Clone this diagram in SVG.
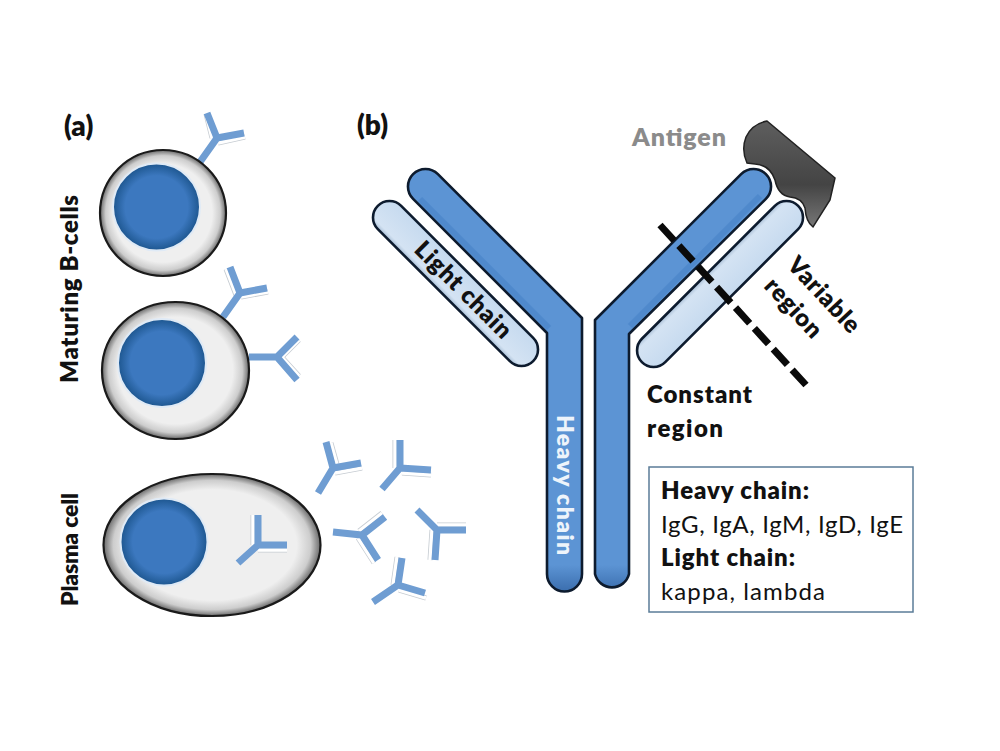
<svg xmlns="http://www.w3.org/2000/svg" width="1000" height="751" viewBox="0 0 1000 751">
<style>
text{font-family:Lato,"Open Sans","Liberation Sans",sans-serif;fill:#111}
.b{font-weight:800}
.cell{stroke:#1a1a1a;stroke-width:2.2}
.nuc{stroke:#dfeaf6;stroke-width:2}
.ab{fill:none;stroke:#6f9dd2;stroke-width:7}
.hlo{fill:none;stroke:#c6ccd2;stroke-width:5}
.hli{fill:none;stroke:#fff;stroke-width:3.4}
.heavy{fill:url(#heavyFill);stroke:#0d1b2e;stroke-width:2.6;stroke-linejoin:round}
.light{fill:url(#lightFill);stroke:#0d1b2e;stroke-width:2.6}
.strip{fill:none;stroke:#4f89cc;stroke-width:6}
</style>
<defs>
<radialGradient id="cellFill" cx="0.5" cy="0.5" r="0.5">
<stop offset="0.78" stop-color="#efefef"/><stop offset="0.91" stop-color="#cdcdcd"/><stop offset="1" stop-color="#6a6a6a"/>
</radialGradient>
<radialGradient id="nucFill" cx="0.5" cy="0.5" r="0.5">
<stop offset="0.72" stop-color="#3c78bf"/><stop offset="1" stop-color="#1d568f"/>
</radialGradient>
<linearGradient id="heavyFill" gradientUnits="userSpaceOnUse" x1="0" y1="565" x2="0" y2="592">
<stop offset="0" stop-color="#5c94d4"/><stop offset="1" stop-color="#3a6dad"/>
</linearGradient>
<linearGradient id="lightFill" x1="0" y1="0" x2="0" y2="1">
<stop offset="0" stop-color="#c6daef"/><stop offset="0.85" stop-color="#d4e3f3"/><stop offset="1" stop-color="#a9bfd6"/>
</linearGradient>
<linearGradient id="antigenFill" x1="0" y1="0" x2="0" y2="1">
<stop offset="0" stop-color="#5e5e5e"/><stop offset="0.6" stop-color="#444"/><stop offset="1" stop-color="#777"/>
</linearGradient>
</defs>
<rect width="1000" height="751" fill="#fff"/>

<g id="label-a"><text class="b" x="64" y="136" font-size="28">(a)</text></g>
<g id="label-b"><text class="b" x="357" y="135" font-size="28">(b)</text></g>

<g id="cell-1">
<path class="hlo" d="M206 114L212 138M245 137L218 143"/><path class="hli" d="M206 114L212 138M245 137L218 143"/>
<path class="ab" d="M200 162L217 138L207 113M217 138L244 133"/>
<circle class="cell" cx="163" cy="213" r="63" fill="url(#cellFill)"/>
<circle class="nuc" cx="156.500" cy="207" r="43.500" fill="url(#nucFill)"/>
</g>
<g id="cell-2">
<path class="hlo" d="M226 269L236 295M268 292L241 297"/><path class="hli" d="M226 269L236 295M268 292L241 297"/>
<path class="ab" d="M223 317L240 293L230 267M240 293L267 288"/>
<path class="hlo" d="M299 340L279 360M299 376L279 354"/><path class="hli" d="M299 340L279 360M299 376L279 354"/>
<path class="ab" d="M249 357L277 357L297 337M277 357L297 380"/>
<ellipse class="cell" cx="175.500" cy="370.500" rx="73.500" ry="68.500" fill="url(#cellFill)"/>
<circle class="nuc" cx="162" cy="363" r="44" fill="url(#nucFill)"/>
</g>
<g id="cell-3">
<ellipse class="cell" cx="212" cy="545" rx="108.500" ry="71" fill="url(#cellFill)"/>
<circle class="nuc" cx="164" cy="542" r="43.500" fill="url(#nucFill)"/>
<path class="hlo" d="M253 515L253 545M287 550L258 550"/><path class="hli" d="M253 515L253 545M287 550L258 550"/>
<path class="ab" d="M238 563L258 545L258 515M258 545L287 545"/>
</g>
<g id="free-antibodies">
<path class="hlo" d="M331 443L338 468M362 468L335 473"/><path class="hli" d="M331 443L338 468M362 468L335 473"/>
<path class="ab" d="M318 493L333 468L326 442M333 468L361 463"/>
<path class="hlo" d="M395 440L395 468M431 475L402 473"/><path class="hli" d="M395 440L395 468M431 475L402 473"/>
<path class="ab" d="M382 489L400 468L400 440M400 468L431 470"/>
<path class="hlo" d="M382 513L359 531M374 563L358 538"/><path class="hli" d="M382 513L359 531M374 563L358 538"/>
<path class="ab" d="M333 532L362 535L385 517M362 535L378 560"/>
<path class="hlo" d="M466 525L437 525M430 560L432 530"/><path class="hli" d="M466 525L437 525M430 560L432 530"/>
<path class="ab" d="M417 510L437 530L466 530M437 530L435 560"/>
<path class="hlo" d="M397 557L393 585M426 598L399 590"/><path class="hli" d="M397 557L393 585M426 598L399 590"/>
<path class="ab" d="M373 602L398 585L402 558M398 585L425 593"/>
</g>

<g id="heavy-left">
<path class="heavy" d="M413.100 198.900A17.500 17.500 0 0 1 437.900 174.100L582 318V574A17.500 17.500 0 0 1 547 574V333Z"/>
<path class="strip" d="M420 199L549 328"/>
</g>
<g id="light-left">
<rect class="light" x="-16.500" y="-16.500" width="219.700" height="33" rx="16.500" transform="translate(389.500 217.500) rotate(45)"/>
<text class="b" font-size="24" transform="translate(413 251) rotate(45)" textLength="126">Light chain</text>
</g>
<g id="heavy-right">
<path class="heavy" d="M765.900 198.900A17.500 17.500 0 0 0 741.100 174.100L595 320V574A17.500 17.500 0 0 0 629 574V334Z"/>
<path class="strip" d="M760 196L630 326"/>
<text font-size="23" style="fill:#eef4fb" class="b" transform="translate(557 415) rotate(90)" textLength="140">Heavy chain</text>
</g>
<g id="light-right">
<rect class="light" x="-16.500" y="-16.500" width="221" height="33" rx="16.500" transform="translate(786.500 217.500) rotate(135)"/>
</g>
<g id="antigen">
<path d="M767 121L835 178L830 200L813 227Q806 222 805 208Q802 198 790 197Q778 195 775 180Q770 165 755 164L747 163Q741 150 746 137Q752 124 767 121Z" fill="url(#antigenFill)" stroke="#222" stroke-width="1.500"/>
<text class="b" x="632" y="146" font-size="25" style="fill:#8b8b8b" textLength="94">Antigen</text>
</g>
<g id="connectors">
<path d="M660 225L806 385" fill="none" stroke="#0a0a0a" stroke-width="7" stroke-dasharray="21 7"/>
</g>
<g id="variable-label">
<text class="b" font-size="24" transform="translate(786 266) rotate(47)" textLength="94">Variable</text>
<text class="b" font-size="24" transform="translate(763 287) rotate(47)" textLength="72">region</text>
</g>
<g id="constant-label">
<text class="b" x="647" y="403" font-size="24" textLength="105">Constant</text>
<text class="b" x="647" y="437" font-size="24" textLength="76">region</text>
</g>
<g id="legend">
<rect x="649" y="467" width="264" height="145" fill="#fff" stroke="#5b7c98" stroke-width="1.500"/>
<text class="b" x="661" y="499" font-size="24" textLength="148">Heavy chain:</text>
<text x="661" y="533" font-size="24" textLength="242">IgG, IgA, IgM, IgD, IgE</text>
<text class="b" x="661" y="566" font-size="24" textLength="134">Light chain:</text>
<text x="661" y="600" font-size="24" textLength="164">kappa, lambda</text>
</g>
<g id="side-labels">
<text class="b" font-size="24" transform="translate(78 383) rotate(-90)" textLength="188">Maturing B-cells</text>
<text class="b" font-size="23" transform="translate(78 606) rotate(-90)" textLength="113">Plasma cell</text>
</g>
</svg>
